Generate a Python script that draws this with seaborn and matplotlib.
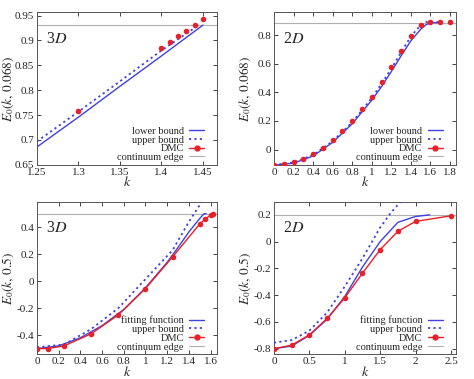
import numpy as np
import pandas as pd
import seaborn as sns
import matplotlib
matplotlib.use("Agg")
import matplotlib.pyplot as plt
from matplotlib.lines import Line2D

# ---------------- data ----------------
# Panel A: 3D, lambda = 0.068
a_lower_k = [1.25, 1.30, 1.35, 1.40, 1.45]
a_lower_e = [0.686, 0.746, 0.808, 0.869, 0.931]
a_upper_k = [1.25, 1.30, 1.35, 1.40, 1.445]
a_upper_e = [0.697, 0.757, 0.818, 0.880, 0.931]
a_dmc_k = [1.30, 1.40, 1.41, 1.42, 1.43, 1.44, 1.45]
a_dmc_e = [0.758, 0.884, 0.897, 0.909, 0.920, 0.932, 0.943]
a_edge = 0.931

# Panel B: 2D, lambda = 0.068
b_lower_k = [0.0, 0.2, 0.4, 0.6, 0.8, 1.0, 1.1, 1.2, 1.3, 1.4, 1.5, 1.55, 1.6, 1.7]
b_lower_e = [-0.110, -0.095, -0.045, 0.050, 0.180, 0.345, 0.440, 0.545, 0.655, 0.760, 0.840, 0.870, 0.886, 0.886]
b_upper_k = [0.0, 0.2, 0.4, 0.6, 0.8, 1.0, 1.1, 1.2, 1.3, 1.4, 1.5, 1.55, 1.6, 1.7]
b_upper_e = [-0.108, -0.090, -0.038, 0.058, 0.190, 0.360, 0.460, 0.565, 0.680, 0.790, 0.870, 0.890, 0.893, 0.890]
b_dmc_k = [0.0, 0.1, 0.2, 0.3, 0.4, 0.5, 0.6, 0.7, 0.8, 0.9, 1.0, 1.1, 1.2, 1.3, 1.4, 1.5, 1.6, 1.7, 1.8]
b_dmc_e = [-0.110, -0.102, -0.090, -0.067, -0.033, 0.014, 0.065, 0.128, 0.200, 0.281, 0.370, 0.470, 0.577, 0.686, 0.795, 0.870, 0.888, 0.888, 0.888]
b_edge = 0.886

# Panel C: 3D, lambda = 0.5
c_fit_k = [0.0, 0.2, 0.4, 0.6, 0.8, 1.0, 1.2, 1.3, 1.4, 1.5, 1.54, 1.56]
c_fit_e = [-0.500, -0.480, -0.420, -0.330, -0.210, -0.050, 0.140, 0.250, 0.365, 0.465, 0.500, 0.500]
c_upper_k = [0.0, 0.25, 0.5, 0.75, 1.0, 1.25, 1.4, 1.5, 1.53]
c_upper_e = [-0.490, -0.470, -0.355, -0.200, 0.015, 0.230, 0.440, 0.565, 0.600]
c_dmc_k = [0.0, 0.1, 0.25, 0.5, 0.75, 1.0, 1.25, 1.5, 1.55, 1.6, 1.62]
c_dmc_e = [-0.500, -0.500, -0.480, -0.390, -0.250, -0.055, 0.180, 0.424, 0.461, 0.490, 0.498]
c_edge = 0.5

# Panel D: 2D, lambda = 0.5
d_fit_k = [0.0, 0.25, 0.5, 0.75, 1.0, 1.25, 1.5, 1.75, 2.0, 2.2]
d_fit_e = [-0.800, -0.780, -0.700, -0.580, -0.410, -0.190, 0.000, 0.144, 0.188, 0.200]
d_upper_k = [0.0, 0.25, 0.5, 0.75, 1.0, 1.25, 1.5, 1.65, 1.8]
d_upper_e = [-0.755, -0.735, -0.665, -0.530, -0.335, -0.125, 0.105, 0.215, 0.305]
d_dmc_k = [0.0, 0.25, 0.5, 0.75, 1.0, 1.25, 1.5, 1.75, 2.0, 2.5]
d_dmc_e = [-0.800, -0.773, -0.697, -0.574, -0.420, -0.236, -0.060, 0.077, 0.151, 0.193]
d_edge = 0.2

# ---------------- style ----------------
sns.set_style("ticks")
plt.rcParams["font.family"] = ["Liberation Serif", "DejaVu Serif"]
plt.rcParams["mathtext.fontset"] = "stix"
plt.rcParams["xtick.direction"] = "in"
plt.rcParams["ytick.direction"] = "in"

BLUE = "#4040e0"
RED = "#e8202a"
GREY = "#b0b0b0"
DOT = (0, (1.2, 1.8))

fig = plt.figure(figsize=(4.74, 3.79), dpi=100)
L1, W = 0.078, 0.380
L2 = 0.578
B1, H1 = 0.565, 0.403
B2, H2 = 0.065, 0.402
axA = fig.add_axes([L1, B1, W, H1])
axB = fig.add_axes([L2, B1, W * 1.01, H1])
axC = fig.add_axes([L1, B2, W, H2])
axD = fig.add_axes([L2, B2, W * 1.01, H2])


def fmt(v):
    return "%g" % v


def draw(ax, lk, le, uk, ue, dk, de, edge, xlim, ylim, dmc_line, ylab, dim, lab1, xt, yt):
    ax.axhline(edge, color=GREY, lw=0.8, zorder=1)
    sns.lineplot(x=lk, y=le, ax=ax, color=BLUE, lw=1.0, sort=False, zorder=3)
    sns.lineplot(x=uk, y=ue, ax=ax, color=BLUE, lw=1.3, sort=False, zorder=3,
                 linestyle=DOT)
    if dmc_line:
        sns.lineplot(x=dk, y=de, ax=ax, color=RED, lw=1.0, sort=False, zorder=4)
    sns.scatterplot(x=dk, y=de, ax=ax, color=RED, s=16, edgecolor=RED, linewidth=0, zorder=5)
    ax.set_xlim(*xlim)
    ax.set_ylim(*ylim)
    ax.set_xticks(xt)
    ax.set_yticks(yt)
    ax.set_xticklabels([fmt(v) for v in xt])
    ax.set_yticklabels([fmt(v) for v in yt])
    ax.tick_params(top=True, right=True, labelsize=8, length=3, width=0.6, pad=2)
    for s in ax.spines.values():
        s.set_linewidth(0.7)
        s.set_color("#555555")
    ax.set_xlabel("$k$", fontsize=10, labelpad=-1)
    ax.set_ylabel(ylab, fontsize=9.5)
    ax.yaxis.set_label_coords(-0.118, 0.5)
    ax.text(0.05, 0.8, dim, transform=ax.transAxes, fontsize=11.5)
    handles = [
        Line2D([], [], color=BLUE, lw=1.0),
        Line2D([], [], color=BLUE, lw=1.3, linestyle=DOT),
        Line2D([], [], color=RED, lw=1.0, marker="o", markersize=3.5),
        Line2D([], [], color=GREY, lw=0.8),
    ]
    labels = [lab1, "upper bound", "DMC", "continuum edge"]
    ax.legend(handles, labels, loc="lower right", bbox_to_anchor=(0.93, 0.018),
              frameon=False, markerfirst=False,
              fontsize=7.5, handlelength=1.5, labelspacing=-0.05, handletextpad=0.5,
              borderaxespad=0, borderpad=0, alignment="right")


draw(axA, a_lower_k, a_lower_e, a_upper_k, a_upper_e, a_dmc_k, a_dmc_e, a_edge,
     (1.25, 1.467), (0.65, 0.957), False, "$E_0(k,\\,0.068)$", "3$D$", "lower bound",
     [1.25, 1.3, 1.35, 1.4, 1.45], [0.65, 0.7, 0.75, 0.8, 0.85, 0.9, 0.95])
draw(axB, b_lower_k, b_lower_e, b_upper_k, b_upper_e, b_dmc_k, b_dmc_e, b_edge,
     (0, 1.86), (-0.107, 0.96), False, "$E_0(k,\\,0.068)$", "2$D$", "lower bound",
     [0, 0.2, 0.4, 0.6, 0.8, 1.0, 1.2, 1.4, 1.6, 1.8], [0, 0.2, 0.4, 0.6, 0.8])
draw(axC, c_fit_k, c_fit_e, c_upper_k, c_upper_e, c_dmc_k, c_dmc_e, c_edge,
     (0, 1.66), (-0.543, 0.587), True, "$E_0(k,\\,0.5)$", "3$D$", "fitting function",
     [0, 0.2, 0.4, 0.6, 0.8, 1.0, 1.2, 1.4, 1.6], [-0.4, -0.2, 0, 0.2, 0.4])
draw(axD, d_fit_k, d_fit_e, d_upper_k, d_upper_e, d_dmc_k, d_dmc_e, d_edge,
     (0, 2.57), (-0.842, 0.296), True, "$E_0(k,\\,0.5)$", "2$D$", "fitting function",
     [0, 0.5, 1.0, 1.5, 2.0, 2.5], [-0.8, -0.6, -0.4, -0.2, 0, 0.2])

fig.savefig("out.png", dpi=100)
